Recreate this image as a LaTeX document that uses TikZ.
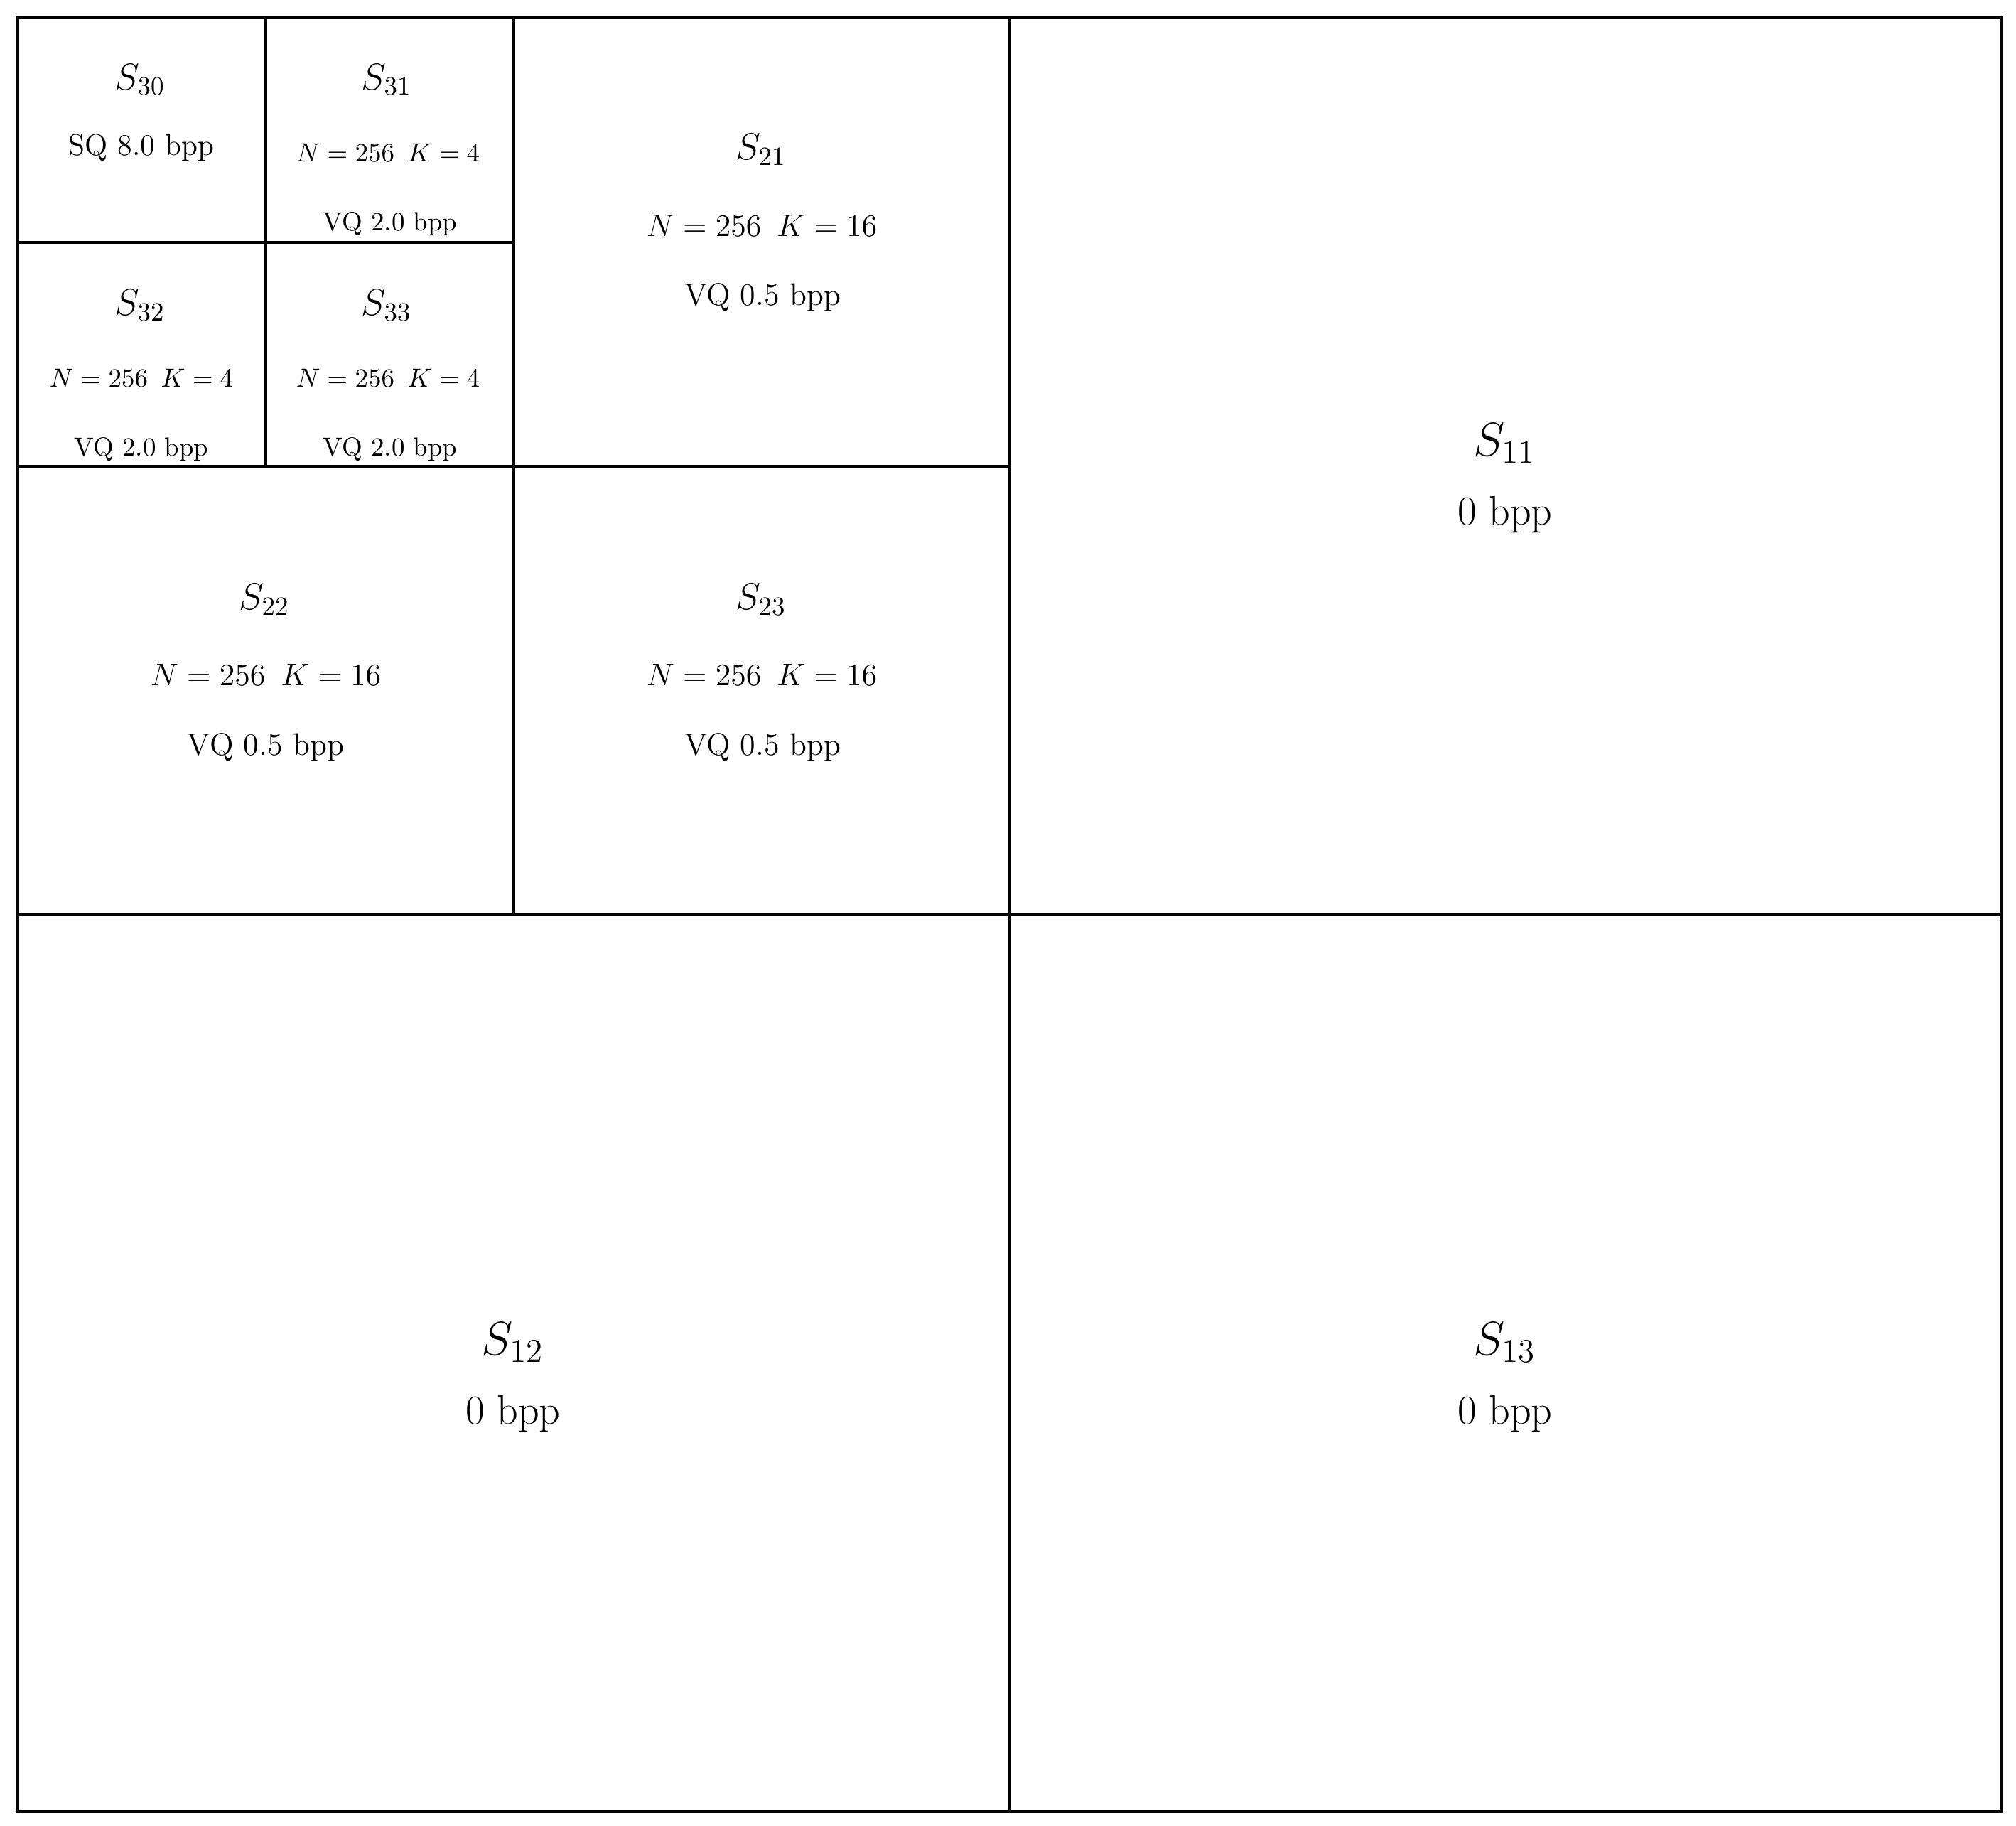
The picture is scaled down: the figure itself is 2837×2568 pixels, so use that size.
\RequirePackage{fix-cm}
\documentclass[tikz,border=0pt]{standalone}
\begin{document}
\begin{tikzpicture}[x=0.01cm,y=-0.01cm,
  gridline/.style={line width=1.15pt, line cap=rect},
  lblsmall/.style={inner sep=0pt, font=\fontsize{15}{18}\selectfont},
  txtsmall/.style={inner sep=0pt, font=\fontsize{10.5}{13}\selectfont},
  txtsq/.style={inner sep=0pt, font=\fontsize{12}{14}\selectfont},
  lblmid/.style={inner sep=0pt, font=\fontsize{15}{18}\selectfont},
  txtmid/.style={inner sep=0pt, font=\fontsize{12.5}{15}\selectfont},
  lblbig/.style={inner sep=0pt, font=\fontsize{19}{23}\selectfont},
  txtbig/.style={inner sep=0pt, font=\fontsize{16.5}{20}\selectfont}]
\useasboundingbox (0,0) rectangle (2837,2568);
% grid
\draw[gridline] (25,25) rectangle (2817,2549);
\draw[gridline] (1421,25) -- (1421,2549);
\draw[gridline] (25,1287) -- (2817,1287);
\draw[gridline] (723,25) -- (723,1287);
\draw[gridline] (25,656) -- (1421,656);
\draw[gridline] (374,25) -- (374,656);
\draw[gridline] (25,340.5) -- (723,340.5);
% S30
\node[lblsmall] (s30) at (197,112) {$S_{30}$};
\node[txtsq] (s30b) at (199,208) {SQ 8.0 bpp};
% S31
\node[lblsmall] (s31) at (544,112) {$S_{31}$};
\node[txtsmall] (s31n) at (546,215) {$N=256\enspace K=4$};
\node[txtsmall] (s31b) at (549,315) {VQ 2.0 bpp};
% S32
\node[lblsmall] (s32) at (197,429) {$S_{32}$};
\node[txtsmall] (s32n) at (199,532) {$N=256\enspace K=4$};
\node[txtsmall] (s32b) at (199,632) {VQ 2.0 bpp};
% S33
\node[lblsmall] (s33) at (544,429) {$S_{33}$};
\node[txtsmall] (s33n) at (546,532) {$N=256\enspace K=4$};
\node[txtsmall] (s33b) at (549,632) {VQ 2.0 bpp};
% S21
\node[lblmid] (s21) at (1071,210) {$S_{21}$};
\node[txtmid] (s21n) at (1072,317) {$N=256\enspace K=16$};
\node[txtmid] (s21b) at (1073,418) {VQ 0.5 bpp};
% S22
\node[lblmid] (s22) at (372,843) {$S_{22}$};
\node[txtmid] (s22n) at (374,949) {$N=256\enspace K=16$};
\node[txtmid] (s22b) at (374,1051) {VQ 0.5 bpp};
% S23
\node[lblmid] (s23) at (1071,843) {$S_{23}$};
\node[txtmid] (s23n) at (1072,949) {$N=256\enspace K=16$};
\node[txtmid] (s23b) at (1073,1051) {VQ 0.5 bpp};
% S11
\node[lblbig] (s11) at (2117,624) {$S_{11}$};
\node[txtbig] (s11b) at (2118,724) {0 bpp};
% S12
\node[lblbig] (s12) at (721,1889) {$S_{12}$};
\node[txtbig] (s12b) at (722,1989) {0 bpp};
% S13
\node[lblbig] (s13) at (2117,1889) {$S_{13}$};
\node[txtbig] (s13b) at (2118,1989) {0 bpp};
\end{tikzpicture}
\end{document}
